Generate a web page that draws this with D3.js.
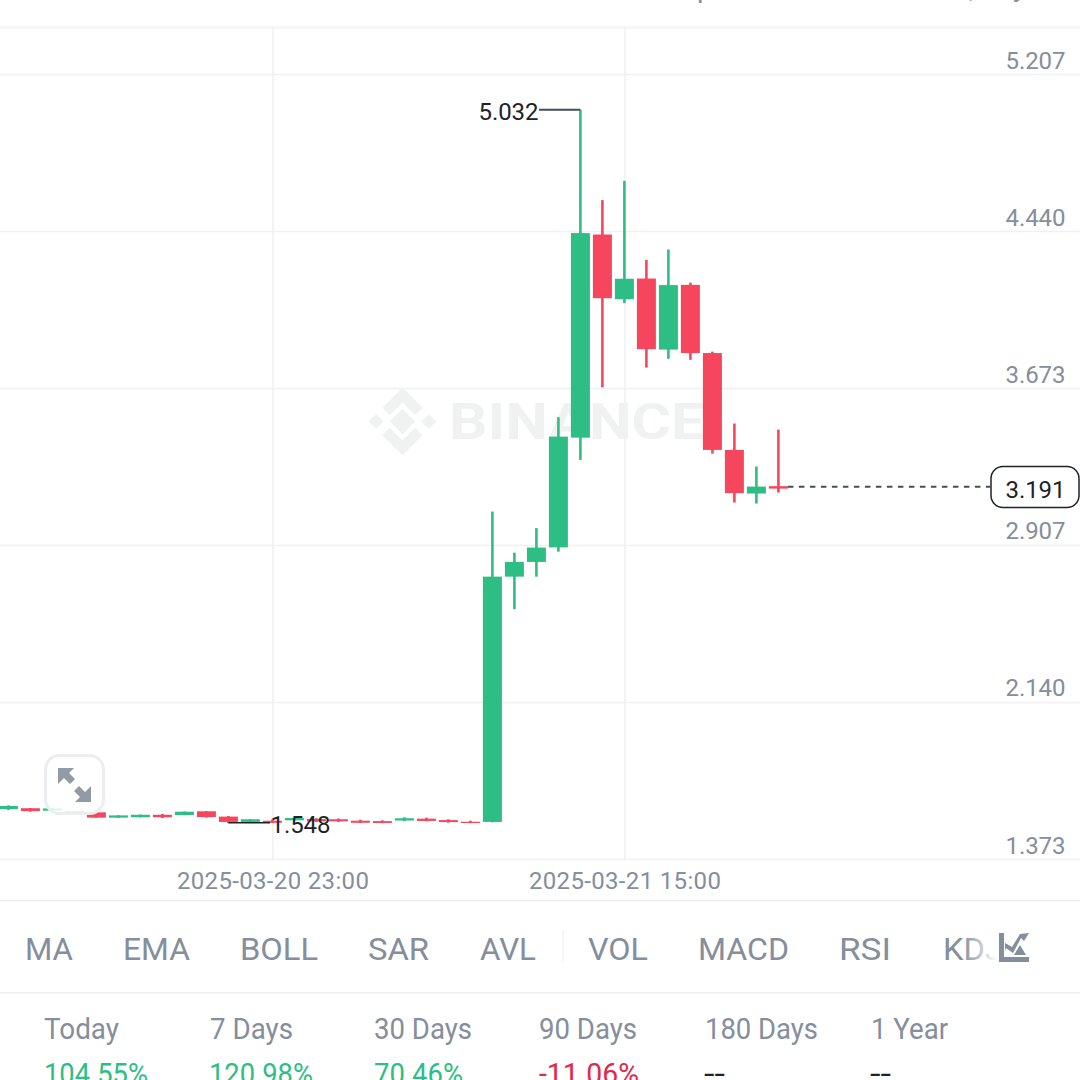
<!DOCTYPE html>
<html>
<head>
<meta charset="utf-8">
<script src="https://cdn.jsdelivr.net/npm/d3@7/dist/d3.min.js"></script>
<style>
html,body{margin:0;padding:0;background:#fff;overflow:hidden}
svg{display:block;font-family:Roboto,"Noto Sans",sans-serif}
</style>
</head>
<body>
<div id="chart"></div>
<script>
// ---------- data ----------
const startTime = "2025-03-20T11:00:00Z";
const opens  = [1.617,1.621,1.609,1.607,1.601,1.575,1.577,1.589,1.588,1.606,1.580,1.554,1.560,1.562,1.568,1.567,1.560,1.558,1.561,1.570,1.563,1.555,1.554,2.752,2.824,2.895,3.431,4.423,4.107,4.208,3.861,4.177,3.844,3.371,3.158,3.194];
const closes = [1.632,1.607,1.620,1.596,1.575,1.586,1.589,1.577,1.604,1.578,1.554,1.567,1.550,1.573,1.557,1.557,1.550,1.549,1.572,1.559,1.553,1.549,2.752,2.824,2.894,3.436,4.430,4.112,4.207,3.863,4.176,3.844,3.371,3.160,3.192,3.182];
const highs  = [1.635,1.622,1.622,1.608,1.602,1.587,1.590,1.593,1.605,1.607,1.583,1.568,1.566,1.574,1.572,1.571,1.565,1.562,1.577,1.575,1.567,1.560,3.070,2.869,2.989,3.531,5.032,4.591,4.685,4.299,4.350,4.188,3.851,3.500,3.290,3.470];
const lows   = [1.612,1.604,1.607,1.595,1.574,1.574,1.576,1.573,1.587,1.575,1.548,1.553,1.549,1.561,1.554,1.554,1.549,1.548,1.558,1.557,1.551,1.548,1.552,2.593,2.752,2.874,3.322,3.677,4.088,3.773,3.816,3.811,3.353,3.114,3.109,3.163];
const priceTicks = [1.373,2.140,2.907,3.673,4.440,5.207];
const timeTicks = ["2025-03-20T23:00:00Z","2025-03-21T15:00:00Z"];
const lastPrice = 3.191;
const maxPrice = 5.032;
const minPrice = 1.548;
const maxIndex = 26;
const minIndex = 10;
const indicators = ["MA","EMA","BOLL","SAR","AVL","VOL","MACD","RSI","KDJ"];
const periods = ["Today","7 Days","30 Days","90 Days","180 Days","1 Year"];
const periodValues = ["104.55%","120.98%","70.46%","-11.06%","--","--"];

// ---------- layout ----------
const W = 1080, H = 1080;
const GREEN = "#2EBD85", RED = "#F6465D", GRID = "#EEF0F2", MUTED = "#848E9C", INK = "#1E2329";
const indicatorBox = [[25,48],[123,67],[240,78],[368,61],[480,56],[588,60],[698,91],[839,52],[943,60]];
const periodBox = [[44,75],[210,83],[374,98],[539,98],[705,113],[871,77]];
const periodValueBox = [[44,104],[209,104],[374,89],[539,100],[704,21],[870,21]];

const svg = d3.select("#chart").append("svg").attr("width",W).attr("height",H);
const defs = svg.append("defs");
const fade = defs.append("linearGradient").attr("id","fade");
fade.append("stop").attr("offset","0").attr("stop-color","#fff").attr("stop-opacity",0);
fade.append("stop").attr("offset","1").attr("stop-color","#fff").attr("stop-opacity",1);

const parse = s => new Date(s);
const hour = 3600000;
const t0 = parse(startTime).getTime();
const times = opens.map((_,i)=>new Date(t0+i*hour));
const candles = opens.map((o,i)=>({t:times[i],o,c:closes[i],h:highs[i],l:lows[i]}));

const x = d3.scaleUtc().domain([times[0], times[1]]).range([8.4, 30.4]);
const y = d3.scaleLinear().domain([1.373,5.207]).range([859,74]);

// frame lines
svg.append("rect").attr("x",0).attr("y",26).attr("width",W).attr("height",3).attr("fill","#F5F6F7");
svg.append("rect").attr("x",0).attr("y",900).attr("width",W).attr("height",1.5).attr("fill","#EEEFF1");
svg.append("rect").attr("x",0).attr("y",992).attr("width",W).attr("height",1.5).attr("fill","#EEEFF1");

// clipped header descenders (rest of the row lies above the picture)
svg.append("g").attr("fill",MUTED).style("font-size","28px")
  .selectAll("text").data([["p",697,-3],[",",969,-3],["y",1013,-4]]).join("text")
  .attr("x",d=>d[1]).attr("y",d=>d[2]).text(d=>d[0]);

// x axis with vertical grid
const xAxis = d3.axisBottom(x).tickValues(timeTicks.map(parse))
  .tickSizeInner(-831).tickSizeOuter(0).tickPadding(10).tickFormat(d3.utcFormat("%Y-%m-%d %H:%M"));
const gx = svg.append("g").attr("transform","translate(0,859)").call(xAxis);
gx.select(".domain").remove();
gx.selectAll("line").attr("stroke",GRID).attr("stroke-width",1.5);
gx.selectAll("text").attr("fill",MUTED).style("font-size","24px").style("font-family","Roboto")
  .attr("y",30).attr("dy",0).attr("textLength",192).attr("lengthAdjust","spacing");

// y axis with horizontal grid
const yAxis = d3.axisRight(y).tickValues(priceTicks).tickSizeInner(W).tickSizeOuter(0).tickFormat(d3.format(".3f"));
const gy = svg.append("g").call(yAxis);
gy.select(".domain").remove();
gy.selectAll("line").attr("stroke",GRID).attr("stroke-width",1.5);
gy.selectAll("text").attr("fill",MUTED).style("font-size","24px").style("font-family","Roboto")
  .attr("x",1065.5).attr("y",-6).attr("dy",0).attr("text-anchor","end").attr("textLength",60).attr("lengthAdjust","spacing");

// watermark
const wm = svg.append("g").attr("fill","#F0F2F2");
wm.append("g").attr("transform","translate(402.5,421.5) scale(1.15)")
  .append("path").attr("d",
   "M0,-11 L11,0 L0,11 L-11,0Z M0,-29.5 L17.5,-12 L11,-5.5 L0,-16.5 L-11,-5.5 L-17.5,-12Z M0,29.5 L17.5,12 L11,5.5 L0,16.5 L-11,5.5 L-17.5,12Z M-29.5,0 L-23,-6.5 L-16.5,0 L-23,6.5Z M29.5,0 L23,-6.5 L16.5,0 L23,6.5Z");
wm.append("text").attr("x",449).attr("y",439).attr("textLength",256).attr("lengthAdjust","spacingAndGlyphs")
  .style("font-size","50px").style("font-weight",700).style("font-family","Roboto").text("BINANCE");

// candles
const color = d => d.c >= d.o ? GREEN : RED;
const bw = 19, ww = 2.6;
const gc = svg.append("g").selectAll("g").data(candles).join("g");
gc.append("rect")
  .attr("x",d=>x(d.t)-ww/2).attr("width",ww)
  .attr("y",d=>y(d.h)).attr("height",d=>y(d.l)-y(d.h))
  .attr("fill",color);
gc.append("rect")
  .attr("x",d=>x(d.t)-bw/2).attr("width",bw)
  .attr("y",d=>y(Math.max(d.o,d.c)))
  .attr("height",d=>Math.max(1,Math.abs(y(d.o)-y(d.c))))
  .attr("fill",color);

// last price line and tag
svg.append("line").attr("x1",x(times[times.length-1])+bw/2).attr("x2",990)
  .attr("y1",y(lastPrice)).attr("y2",y(lastPrice))
  .attr("stroke","#474D57").attr("stroke-width",2).attr("stroke-dasharray","5.5 5.5");
svg.append("rect").attr("x",991).attr("y",466.5).attr("width",88).attr("height",41).attr("rx",12)
  .attr("fill","#fff").attr("stroke",INK).attr("stroke-width",1.5);
svg.append("text").attr("x",1065.5).attr("y",498).attr("text-anchor","end").attr("fill",INK)
  .attr("textLength",60).attr("lengthAdjust","spacing").style("font-size","24px").text(d3.format(".3f")(lastPrice));

// high / low markers
svg.append("path").attr("fill","none").attr("stroke","#474D57").attr("stroke-width",2)
  .attr("d",`M${x(times[maxIndex])},${y(maxPrice)}H539`);
svg.append("text").attr("x",478.5).attr("y",119.5).attr("fill",INK)
  .attr("textLength",60).attr("lengthAdjust","spacing").style("font-size","24px").text(d3.format(".3f")(maxPrice));
svg.append("path").attr("fill","none").attr("stroke",INK).attr("stroke-width",1.5)
  .attr("d",`M${x(times[minIndex])},${y(minPrice)-0.5}H270`);
svg.append("text").attr("x",270.5).attr("y",832.5).attr("fill",INK)
  .attr("textLength",60).attr("lengthAdjust","spacing").style("font-size","24px").text(d3.format(".3f")(minPrice));

// expand button
const btn = svg.append("g");
btn.append("rect").attr("x",45.5).attr("y",755.5).attr("width",58).attr("height",58).attr("rx",14)
  .attr("fill","#fff").attr("fill-opacity",0.85).attr("stroke","#ECEDEF").attr("stroke-width",3);
btn.append("path").attr("fill","#929AA5")
  .attr("d","M58,768 H74 L69,773 L75,779 L70,784 L64,778 L58,784Z M91,802 H75 L80,797 L74,791 L79,786 L85,792 L91,786Z");

// indicator tabs
const tabs = svg.append("g").attr("fill",MUTED);
tabs.selectAll("text").data(indicators).join("text")
  .attr("x",(d,i)=>indicatorBox[i][0]).attr("y",960)
  .attr("textLength",(d,i)=>indicatorBox[i][1]).attr("lengthAdjust","spacingAndGlyphs")
  .style("font-size","31px").text(d=>d);
svg.append("rect").attr("x",562.5).attr("y",930).attr("width",1).attr("height",32).attr("fill","#EEEFF1");
svg.append("rect").attr("x",962).attr("y",925).attr("width",36).attr("height",45).attr("fill","url(#fade)");
svg.append("rect").attr("x",998).attr("y",925).attr("width",50).attr("height",45).attr("fill","#fff");
svg.append("path").attr("fill","#858E9C")
  .attr("d","M999,933 H1004 V957 H1029 V962 H999Z M1005,951 L1005,943 L1012,947 L1020,934 L1029,933 L1024,941 L1021,938 L1013,953 L1006,948 Z M1014,955 L1020,945 L1026,955Z");

// period stats
svg.append("g").attr("fill",MUTED).selectAll("text").data(periods).join("text")
  .attr("x",(d,i)=>periodBox[i][0]).attr("y",1039)
  .attr("textLength",(d,i)=>periodBox[i][1]).attr("lengthAdjust","spacingAndGlyphs")
  .style("font-size","29px").text(d=>d);
svg.append("g").selectAll("text").data(periodValues).join("text")
  .attr("x",(d,i)=>periodValueBox[i][0]).attr("y",1084)
  .attr("textLength",(d,i)=>periodValueBox[i][1]).attr("lengthAdjust","spacingAndGlyphs")
  .attr("fill",d=>d==="--"?INK:(d[0]==="-"?"#E0294A":GREEN))
  .style("font-size","29px").text(d=>d);
</script>
</body>
</html>
